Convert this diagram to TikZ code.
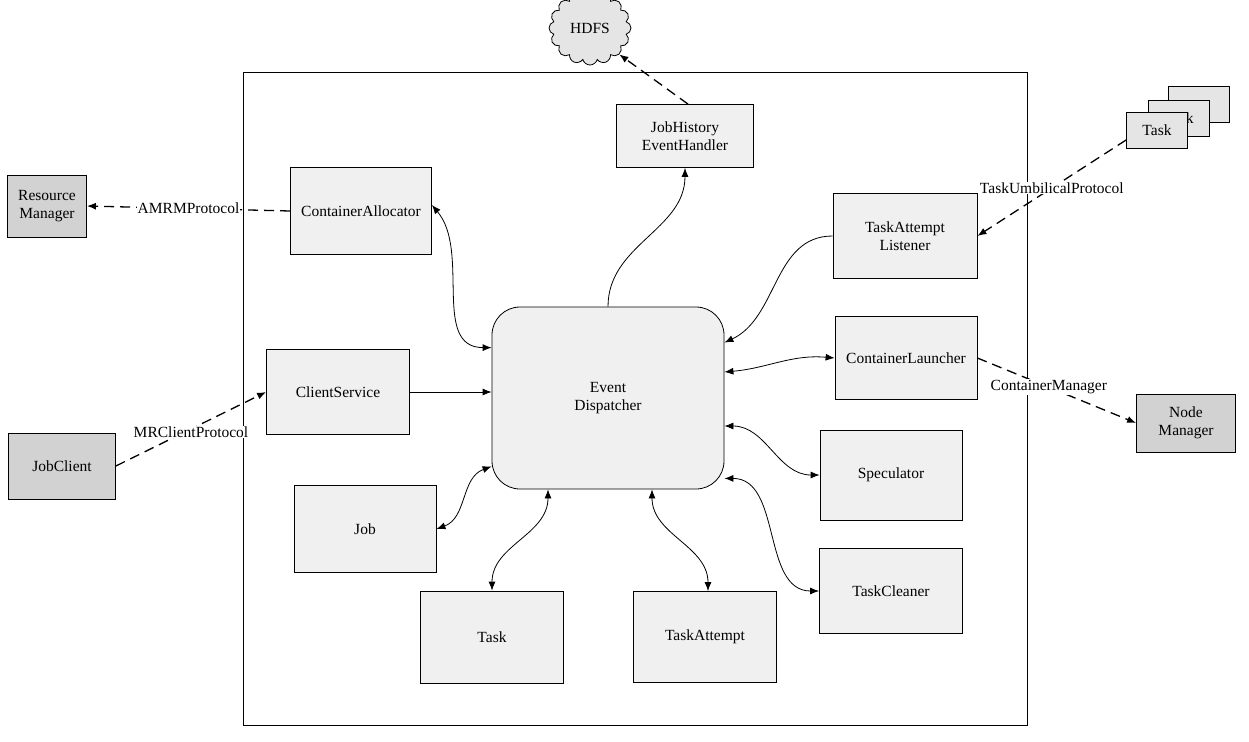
\documentclass[tikz,border=0pt]{standalone}
\usepackage{fontspec}
\setmainfont{Liberation Serif}
\usetikzlibrary{shapes.symbols,arrows.meta}
\tikzset{
	box/.style={draw,fill=gray!12,minimum width=143pt,minimum height=85pt,align=center,inner sep=1pt},
	ext/.style={draw,fill=gray!35,align=center,inner sep=1pt},
	dashline/.style={dashed,dash pattern=on 10pt off 6pt,line width=1.3pt},
	arr/.style={-{Latex[length=9pt,width=7pt]}},
	darr/.style={{Latex[length=9pt,width=7pt]}-{Latex[length=9pt,width=7pt]}},
	lbl/.style={fill=white,inner sep=1pt}
}
\begin{document}
\begin{tikzpicture}[x=1pt,y=1pt,yscale=-1,font=\fontsize{15.5}{18}\selectfont,line width=0.8pt]
	\useasboundingbox (0,0) rectangle (1249,741);
	
	% frame
	\draw[fill=white] (243,72) rectangle (1027,725);
	
	% outside parts
	\node[cloud,cloud puffs=16,draw,fill=gray!20,minimum width=82pt,minimum height=40pt] (hdfs) at (590,28) {HDFS};
	\node[ext,minimum width=79pt,minimum height=62pt] (rm) at (47,206) {Resource\\Manager};
	\node[ext,minimum width=107pt,minimum height=66pt] (jc) at (62,466) {JobClient};
	\node[ext,minimum width=99pt,minimum height=58pt] (nm) at (1186,423) {Node\\Manager};
	\node[draw,fill=gray!20,minimum width=61pt,minimum height=36pt] (t3) at (1199,104) {};
	\node[draw,fill=gray!20,minimum width=61pt,minimum height=36pt] (t2) at (1179,118) {Task};
	\node[draw,fill=gray!20,minimum width=61pt,minimum height=36pt] (tk) at (1157,130) {Task};
	
	% inner parts
	\node[box,minimum width=137pt,minimum height=63pt] (jh) at (685,136) {JobHistory\\EventHandler};
	\node[box,minimum width=141pt,minimum height=87pt] (ca) at (361,211) {ContainerAllocator};
	\node[box,minimum width=144pt] (tal) at (905,236) {TaskAttempt\\Listener};
	\node[draw,fill=gray!12,rounded corners=28pt,minimum width=232pt,minimum height=182pt,align=center] (ed) at (608,398) {Event\\Dispatcher};
	\node[box,minimum width=142pt,minimum height=83pt] (cl) at (906,358) {ContainerLauncher};
	\node[box] (cs) at (338,392) {ClientService};
	\node[box,minimum width=142pt,minimum height=90pt] (sp) at (891,475) {Speculator};
	\node[box,minimum width=142pt,minimum height=87pt] (job) at (365,529) {Job};
	\node[box] (tc) at (891,591) {TaskCleaner};
	\node[box,minimum height=92pt] (task) at (492,637) {Task};
	\node[box,minimum height=91pt] (ta) at (705,637) {TaskAttempt};
	
	% protocols
	\draw[dashline,arr] (jh.north) ++(3,0) coordinate (jhn) (jhn) -- (hdfs.south east);
	\draw[dashline,arr] (ca.west) -- (rm.east) node[midway,lbl] {AMRMProtocol};
	\draw[dashline,arr] (jc.east) -- (cs.west) node[midway,lbl,yshift=-3pt] {MRClientProtocol};
	\draw[dashline,arr] (tk.west) ++(0,10) coordinate (tkw) (tkw) -- (tal.east) node[midway,lbl] {TaskUmbilicalProtocol};
	\draw[dashline,arr] (cl.east) -- (nm.west) node[pos=0.45,lbl] {ContainerManager};
	
	% events
	\draw[arr] (ed.north) to[out=-90,in=90] (jh.south);
	\draw[darr] ([yshift=-6pt]ca.east) to[out=50,in=180] ([yshift=41pt]ed.north west);
	\draw[arr] (tal.west) to[out=180,in=-25] ([yshift=36pt]ed.north east);
	\draw[darr] ([yshift=-26pt]ed.east) to[out=-5,in=185] (cl.west);
	\draw[darr] ([yshift=28pt]ed.east) to[out=0,in=180] (sp.west);
	\draw[darr] ([yshift=-11pt]ed.south east) to[out=0,in=180] (tc.west);
	\draw[darr] (job.east) to[out=-20,in=160] ([yshift=-23pt]ed.south west);
	\draw[darr] ([xshift=-60pt]ed.south) to[out=90,in=-90] (task.north);
	\draw[darr] ([xshift=44pt]ed.south) to[out=90,in=-90] ([xshift=3pt]ta.north);
	\draw[arr] (cs.east) -- (cs.east -| ed.west);
\end{tikzpicture}
\end{document}
